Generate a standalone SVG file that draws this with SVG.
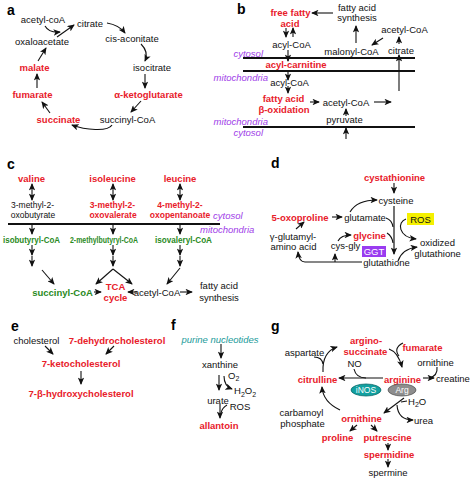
<svg xmlns="http://www.w3.org/2000/svg" width="474" height="479" viewBox="0 0 474 479">
<defs>
<style>
text{font-family:"Liberation Sans",Arial,sans-serif;font-size:9.5px;fill:#111;text-anchor:middle}
.r{fill:#e8202a;font-weight:bold}
.g{fill:#2a8a1e;font-weight:bold;font-size:8.6px}
.p{fill:#a040e8;font-style:italic;text-anchor:end}
.ps{fill:#a040e8;font-style:italic;text-anchor:start}
.s{font-size:8.5px}
.L{font-weight:bold;font-size:14px;text-anchor:start;fill:#000}
.w{fill:#fff;font-size:8.5px}
.c path{fill:none;stroke:#111;stroke-width:1.1;marker-end:url(#ah)}
.c path.n{marker-end:none}
.c path.d{marker-start:url(#ah)}
.m{stroke:#111;stroke-width:1.8}
</style>
<marker id="ah" viewBox="0 0 8 7" refX="7" refY="3.5" markerWidth="7.5" markerHeight="6.5" markerUnits="userSpaceOnUse" orient="auto-start-reverse">
<path d="M0,0 L8,3.5 L0,7 L2,3.5 z" fill="#111"/>
</marker>
</defs>
<rect width="474" height="479" fill="#fff"/>

<!-- panel labels -->
<g id="labels">
<text class="L" x="7" y="15">a</text>
<text class="L" x="237" y="14">b</text>
<text class="L" x="7" y="169">c</text>
<text class="L" x="271" y="168">d</text>
<text class="L" x="11" y="331">e</text>
<text class="L" x="171" y="330">f</text>
<text class="L" x="271" y="331">g</text>
</g>

<!-- membranes -->
<g id="membranes">
<line class="m" x1="243" y1="58" x2="415" y2="58"/>
<line class="m" x1="243" y1="71" x2="415" y2="71"/>
<line class="m" x1="243" y1="127" x2="415" y2="127"/>
<line class="m" x1="8" y1="224" x2="220" y2="224"/>
</g>

<g id="connectors" class="c">
<!-- a -->
<path d="M45,26 Q49,33 60,32"/>
<path d="M57,37 L74,25"/>
<path d="M107,23 Q119,25 125,33"/>
<path d="M141,44 Q149,52 145,61"/>
<path d="M145,74 L145,88"/>
<path d="M141,101 L131,112"/>
<path d="M112,125 C108,132 85,130 72,125"/>
<path d="M50,113 L42,102"/>
<path d="M37,88 L37,74"/>
<path d="M38,61 L46,48"/>
<!-- b -->
<path d="M333,13 L312,13"/>
<path d="M286,28 L286,37"/>
<path d="M293,37 L293,28"/>
<path d="M356,43 L356,26"/>
<path d="M383,38 L372,45"/>
<path d="M399,44 L399,37"/>
<path d="M399,91 L399,55"/>
<path d="M288,50 L288,61"/>
<path d="M288,72 L288,80"/>
<path d="M288,86 L288,93"/>
<path d="M310,102 L319,102"/>
<path d="M374,102 L391,102"/>
<path d="M346,116 L346,109"/>
<path d="M346,139 L346,128"/>
<!-- c -->
<path class="d" d="M32,184 L32,200"/>
<path class="d" d="M113,184 L113,200"/>
<path class="d" d="M180,184 L180,200"/>
<path d="M32,225 L32,234"/>
<path d="M113,225 L113,234"/>
<path d="M180,225 L180,234"/>
<path d="M32,245 L32,255"/>
<path d="M32,256 L32,266"/>
<path d="M113,245 L113,255"/>
<path d="M113,256 L113,266"/>
<path d="M180,245 L180,255"/>
<path d="M180,256 L180,266"/>
<path d="M42,270 L54,284"/>
<path d="M113,269 L96,284"/>
<path d="M113,269 L132,284"/>
<path d="M180,268 L167,284"/>
<path d="M94,292 L101,292"/>
<path d="M137,292 L128,292"/>
<path d="M180,292 L192,292"/>
<!-- d -->
<path d="M394,183 L394,193"/>
<path d="M332,217 L342,217"/>
<path d="M350,212 Q357,200 377,200"/>
<path d="M394,206 L394,254" style="stroke:#444;stroke-width:1.5"/>
<path class="n" d="M386,218 Q392,220 393,227"/>
<path class="n" d="M387,233 Q392,236 393,243"/>
<path d="M406,219 C397,222 398,237 416,239"/>
<path d="M398,261 Q402,249 417,247"/>
<path d="M338,241 Q341,235 351,235"/>
<path d="M296,229 L304,222"/>
<path d="M362,262 L305,262 Q299,262 298,252"/>
<path d="M335,262 L335,254"/>
<!-- e -->
<path d="M45,346 L53,354"/>
<path d="M114,346 L106,354"/>
<path d="M81,371 L81,384"/>
<!-- f -->
<path d="M221,344 L221,358"/>
<path d="M219,375 L219,390"/>
<path d="M224,376 Q224,386 232,389"/>
<path d="M220,404 L220,418"/>
<path class="n" d="M227,405 Q222,408 221,413"/>
<!-- g -->
<path d="M323,372 Q322,352 337,347"/>
<path class="n" d="M314,357 Q322,357 323,364"/>
<path d="M389,349 Q398,352 402,367"/>
<path class="n" d="M403,343 Q393,348 399,356"/>
<path class="n" d="M354,369 Q356,378 366,378"/>
<path class="n" d="M437,367 Q438,376 429,378"/>
<path d="M423,378 L434,378"/>
<path d="M383,378 L339,378"/>
<path d="M404,398 L384,413"/>
<path class="n" d="M407,401 L401,402"/>
<path d="M397,405 Q398,420 413,420"/>
<path d="M340,410 Q323,402 322,387"/>
<path d="M357,425 L350,431"/>
<path d="M371,425 L377,431"/>
<path d="M388,443 L388,450"/>
<path d="M388,459 L388,467"/>
</g>

<!-- panel a nodes -->
<g id="a-acetylcoa"><text x="43" y="22.5">acetyl-coA</text></g>
<g id="a-citrate"><text x="90" y="27">citrate</text></g>
<g id="a-oxaloacetate"><text x="42" y="44.5">oxaloacetate</text></g>
<g id="a-cisaconitate"><text x="132" y="41.5">cis-aconitate</text></g>
<g id="a-malate"><text class="r" x="34.5" y="70.5">malate</text></g>
<g id="a-isocitrate"><text x="152" y="70.5">isocitrate</text></g>
<g id="a-fumarate"><text class="r" x="32.5" y="97.5">fumarate</text></g>
<g id="a-akg"><text class="r" x="148.5" y="97.5">α-ketoglutarate</text></g>
<g id="a-succinate"><text class="r" x="58.5" y="122.5">succinate</text></g>
<g id="a-succinylcoa"><text x="127.5" y="122.5">succinyl-CoA</text></g>

<!-- panel b nodes -->
<g id="b-ffa"><text class="r" x="290.5" y="15.5">free fatty</text><text class="r" x="290" y="26.5">acid</text></g>
<g id="b-fas"><text x="357" y="10.5">fatty acid</text><text x="357" y="21">synthesis</text></g>
<g id="b-acylcoa1"><text x="291.5" y="47.5">acyl-CoA</text></g>
<g id="b-malonyl"><text x="351.5" y="54.5">malonyl-CoA</text></g>
<g id="b-acetylcoa1"><text x="404.5" y="32.5">acetyl-CoA</text></g>
<g id="b-citrate"><text x="401" y="53.5">citrate</text></g>
<g id="b-cytosol1"><text class="p" x="263" y="56.5">cytosol</text></g>
<g id="b-acylcarnitine"><text class="r" x="296" y="67.5">acyl-carnitine</text></g>
<g id="b-mito1"><text class="p" x="268" y="81">mitochondria</text></g>
<g id="b-acylcoa2"><text x="289.5" y="85.5">acyl-CoA</text></g>
<g id="b-fao"><text class="r" x="283.5" y="101.5">fatty acid</text><text class="r" x="284" y="112.5">β-oxidation</text></g>
<g id="b-acetylcoa2"><text x="346" y="105.5">acetyl-CoA</text></g>
<g id="b-pyruvate"><text x="344.5" y="122.5">pyruvate</text></g>
<g id="b-mito2"><text class="p" x="268" y="124.5">mitochondria</text></g>
<g id="b-cytosol2"><text class="p" x="263" y="135.5">cytosol</text></g>

<!-- panel c nodes -->
<g id="c-valine"><text class="r" x="31.5" y="181.5">valine</text></g>
<g id="c-isoleucine"><text class="r" x="112.5" y="181.5">isoleucine</text></g>
<g id="c-leucine"><text class="r" x="180" y="181.5">leucine</text></g>
<g id="c-mob"><text class="s" x="32.5" y="208">3-methyl-2-</text><text class="s" x="33" y="218">oxobutyrate</text></g>
<g id="c-mov"><text class="r s" x="112.5" y="208">3-methyl-2-</text><text class="r s" x="113" y="218">oxovalerate</text></g>
<g id="c-mop"><text class="r s" x="180" y="208">4-methyl-2-</text><text class="r s" x="180" y="218">oxopentanoate</text></g>
<g id="c-cytosol"><text class="ps" x="213" y="219">cytosol</text></g>
<g id="c-mito"><text class="ps" x="200" y="232.5">mitochondria</text></g>
<g id="c-isobutyryl"><text class="g" x="31.5" y="243" textLength="57" lengthAdjust="spacingAndGlyphs">isobutyryl-CoA</text></g>
<g id="c-2mb"><text class="g" x="104" y="243" textLength="68" lengthAdjust="spacingAndGlyphs">2-methylbutyryl-CoA</text></g>
<g id="c-isovaleryl"><text class="g" x="183.5" y="243" textLength="57" lengthAdjust="spacingAndGlyphs">isovaleryl-CoA</text></g>
<g id="c-succinylcoa"><text class="g" x="62.5" y="295.5" style="font-size:9.5px">succinyl-CoA</text></g>
<g id="c-tca"><text class="r" x="115.5" y="289.5">TCA</text><text class="r" x="115.5" y="300.5">cycle</text></g>
<g id="c-acetylcoa"><text x="157" y="295.5">acetyl-CoA</text></g>
<g id="c-fas"><text x="219" y="288.5">fatty acid</text><text x="219" y="300.5">synthesis</text></g>

<!-- panel d nodes -->
<g id="d-cystathionine"><text class="r" x="394.5" y="180.5">cystathionine</text></g>
<g id="d-cysteine"><text x="396" y="203.5">cysteine</text></g>
<g id="d-oxoproline"><text class="r" x="300" y="220.5">5-oxoproline</text></g>
<g id="d-glutamate"><text x="365" y="220.5">glutamate</text></g>
<g id="d-ros"><rect x="407" y="213" width="27" height="12" fill="#f5f000"/><text x="420.5" y="222.5">ROS</text></g>
<g id="d-gssg"><text x="437.5" y="245.5">oxidized</text><text x="437.5" y="256.5">glutathione</text></g>
<g id="d-glycine"><text class="r" x="369.5" y="238.5">glycine</text></g>
<g id="d-cysgly"><text x="345.5" y="248.5">cys-gly</text></g>
<g id="d-gga"><text x="293" y="239.5">γ-glutamyl-</text><text x="293.5" y="249.5">amino acid</text></g>
<g id="d-ggt"><rect x="362" y="246" width="24" height="11" fill="#9a3cf0"/><text class="w" x="374" y="255" style="font-size:9.5px">GGT</text></g>
<g id="d-glutathione"><text x="386.5" y="265.5">glutathione</text></g>

<!-- panel e nodes -->
<g id="e-cholesterol"><text x="36.5" y="343.5">cholesterol</text></g>
<g id="e-7dhc"><text class="r" x="117" y="343.5">7-dehydrocholesterol</text></g>
<g id="e-7kc"><text class="r" x="81" y="366.5">7-ketocholesterol</text></g>
<g id="e-7bhc"><text class="r" x="81" y="396.5">7-β-hydroxycholesterol</text></g>

<!-- panel f nodes -->
<g id="f-purine"><text x="220" y="342.5" style="fill:#1a9a9a;font-style:italic">purine nucleotides</text></g>
<g id="f-xanthine"><text x="220" y="368">xanthine</text></g>
<g id="f-o2"><text x="228" y="378.5" style="text-anchor:start">O<tspan font-size="7" dy="2.5">2</tspan></text></g>
<g id="f-h2o2"><text x="234" y="394" style="text-anchor:start">H<tspan font-size="7" dy="2.5">2</tspan><tspan dy="-2.5">O</tspan><tspan font-size="7" dy="2.5">2</tspan></text></g>
<g id="f-urate"><text x="218" y="403.5">urate</text></g>
<g id="f-ros"><text x="240" y="409.5">ROS</text></g>
<g id="f-allantoin"><text class="r" x="219" y="428.5">allantoin</text></g>

<!-- panel g nodes -->
<g id="g-as"><text class="r" x="366" y="343.5">argino-</text><text class="r" x="365.5" y="354.5">succinate</text></g>
<g id="g-aspartate"><text x="304.5" y="355.5">aspartate</text></g>
<g id="g-fumarate"><text class="r" x="422.5" y="350.5">fumarate</text></g>
<g id="g-no"><text x="354.5" y="366.5">NO</text></g>
<g id="g-ornithine2"><text x="435.5" y="365.5">ornithine</text></g>
<g id="g-creatine"><text x="453" y="381.5">creatine</text></g>
<g id="g-citrulline"><text class="r" x="317.5" y="382.5">citrulline</text></g>
<g id="g-arginine"><text class="r" x="402.5" y="382.5">arginine</text></g>
<g id="g-inos"><ellipse cx="366" cy="390" rx="15" ry="6" fill="#12a0a0" stroke="#0a6a6a" stroke-width="0.8"/><text class="w" x="366" y="393">iNOS</text></g>
<g id="g-arg"><ellipse cx="402" cy="390" rx="14" ry="6" fill="#8e8e8e" stroke="#555" stroke-width="0.8"/><text class="w" x="402" y="393">Arg</text></g>
<g id="g-h2o"><text x="408" y="404.5" style="text-anchor:start">H<tspan font-size="7" dy="2.5">2</tspan><tspan dy="-2.5">O</tspan></text></g>
<g id="g-urea"><text x="423.5" y="423.5">urea</text></g>
<g id="g-cp"><text x="301.5" y="415.5">carbamoyl</text><text x="302.5" y="426.5">phosphate</text></g>
<g id="g-ornithine"><text class="r" x="361.5" y="421.5">ornithine</text></g>
<g id="g-proline"><text class="r" x="337.5" y="440.5">proline</text></g>
<g id="g-putrescine"><text class="r" x="387.5" y="440.5">putrescine</text></g>
<g id="g-spermidine"><text class="r" x="389" y="457.5">spermidine</text></g>
<g id="g-spermine"><text x="388" y="475.5">spermine</text></g>
</svg>
